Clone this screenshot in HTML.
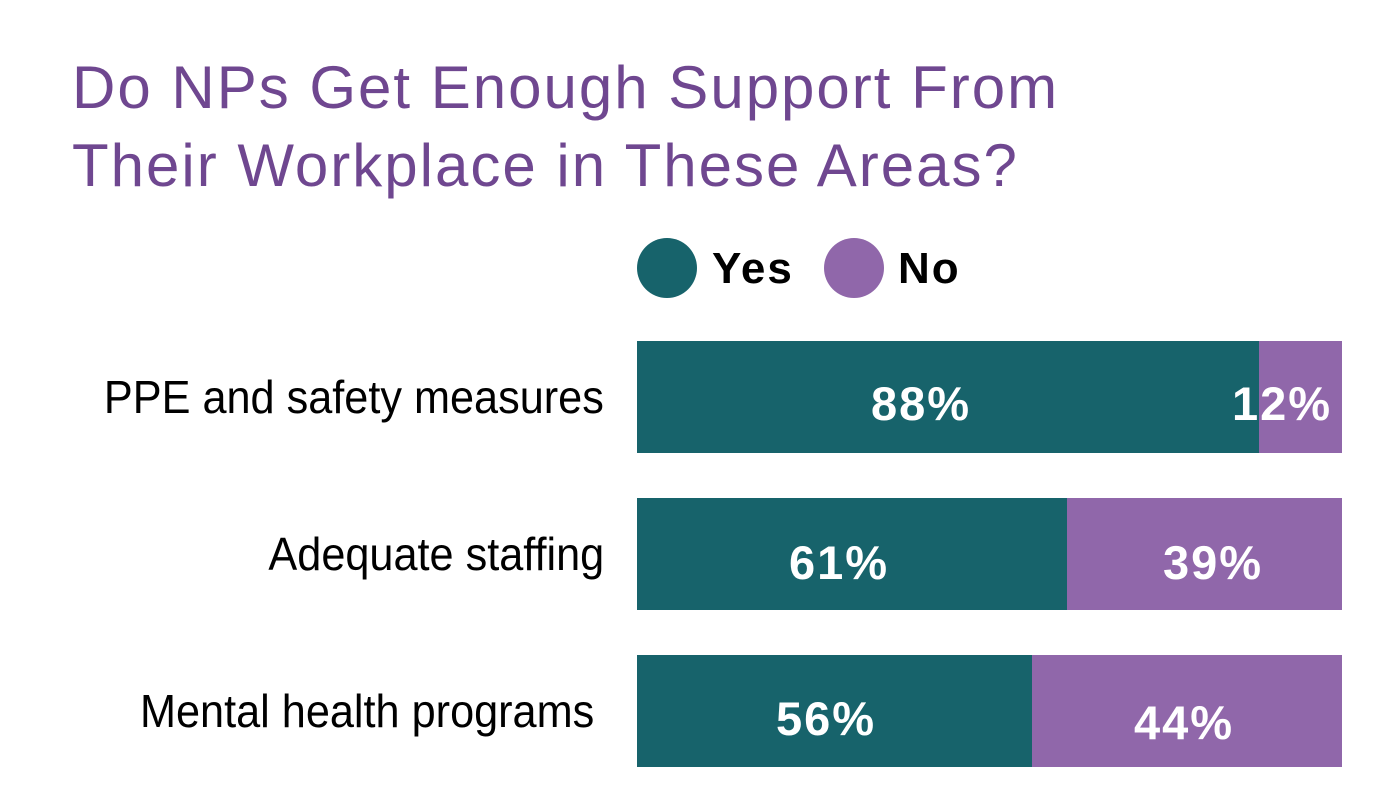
<!DOCTYPE html>
<html><head><meta charset="utf-8"><style>
html,body{margin:0;padding:0;background:#fff;}
body{width:1380px;height:792px;position:relative;overflow:hidden;font-family:"Liberation Sans",sans-serif;}
.t{position:absolute;left:72px;color:#6f4790;font-size:60px;line-height:60px;white-space:nowrap;letter-spacing:2px}
.lab{position:absolute;right:776px;font-size:46px;color:#000;white-space:nowrap;transform:scaleX(0.94);transform-origin:right center;}
.bar{position:absolute;height:112px;}
.y{background:#17636b}.n{background:#9067aa}
.v{position:absolute;color:#fff;font-weight:bold;font-size:47px;line-height:44px;white-space:nowrap;letter-spacing:2px}
.dot{position:absolute;width:60px;height:60px;border-radius:50%;top:238px}
.lg{position:absolute;top:245px;font-size:44px;font-weight:bold;line-height:48px;letter-spacing:2px}
</style></head><body>
<div class="t" style="top:58px">Do NPs Get Enough Support From</div>
<div class="t" style="top:136px">Their Workplace in These Areas?</div>
<div class="dot y" style="left:637px"></div><div class="lg" style="left:712px">Yes</div>
<div class="dot n" style="left:824px"></div><div class="lg" style="left:898px">No</div>

<div class="lab" style="top:370px">PPE and safety measures</div>
<div class="bar y" style="left:637px;top:341px;width:622px"></div>
<div class="bar n" style="left:1259px;top:341px;width:83px"></div>
<div class="v" style="left:871px;top:382px">88%</div>
<div class="v" style="left:1232px;top:382px">12%</div>

<div class="lab" style="top:527px">Adequate staffing</div>
<div class="bar y" style="left:637px;top:498px;width:430px"></div>
<div class="bar n" style="left:1067px;top:498px;width:275px"></div>
<div class="v" style="left:789px;top:541px">61%</div>
<div class="v" style="left:1163px;top:541px">39%</div>

<div class="lab" style="top:684px;right:786px">Mental health programs</div>
<div class="bar y" style="left:637px;top:655px;width:395px"></div>
<div class="bar n" style="left:1032px;top:655px;width:310px"></div>
<div class="v" style="left:776px;top:697px">56%</div>
<div class="v" style="left:1134px;top:701px">44%</div>
</body></html>
